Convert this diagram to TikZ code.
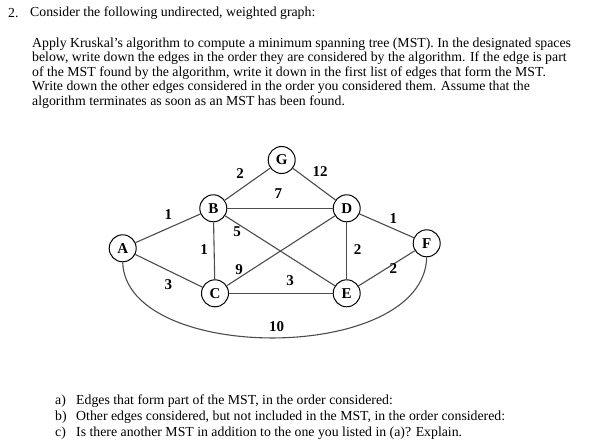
\documentclass[tikz,border=0pt]{standalone}
\usepackage{fontspec}
\setmainfont{Liberation Serif}
\begin{document}
\begin{tikzpicture}[x=1pt,y=-1pt,
  txt/.style={anchor=west,inner sep=0pt,font=\fontsize{13.8}{15}\selectfont},
  vert/.style={draw,circle,line width=1pt,minimum size=27pt,inner sep=0pt,font=\fontsize{15}{16}\selectfont\bfseries},
  wt/.style={inner sep=0pt,font=\fontsize{15}{16}\selectfont\bfseries},
  edge/.style={draw=black!70,line width=1.1pt}]
\useasboundingbox (0,0) rectangle (595,447);
% text
\node[txt] (q) at (8,13) {2.};
\node[txt] (l0) at (30,13) {Consider the following undirected, weighted graph:};
\node[txt] (l1) at (32,44) {Apply Kruskal’s algorithm to compute a minimum spanning tree (MST). In the designated spaces};
\node[txt] (l2) at (32,58.5) {below, write down the edges in the order they are considered by the algorithm. If the edge is part};
\node[txt] (l3) at (32,73) {of the MST found by the algorithm, write it down in the first list of edges that form the MST.};
\node[txt] (l4) at (32,87.5) {Write down the other edges considered in the order you considered them. Assume that the};
\node[txt] (l5) at (32,102) {algorithm terminates as soon as an MST has been found.};
\node[txt] (a) at (55,401) {a)};
\node[txt] (at) at (76,401) {Edges that form part of the MST, in the order considered:};
\node[txt] (b) at (55,417) {b)};
\node[txt] (bt) at (76,417) {Other edges considered, but not included in the MST, in the order considered:};
\node[txt] (c) at (55,433) {c)};
\node[txt] (ct) at (76,433) {Is there another MST in addition to the one you listed in (a)? Explain.};
% vertices
\node[vert] (G) at (281.7,160) {G};
\node[vert] (B) at (213.3,208.3) {B};
\node[vert] (D) at (346.7,208.3) {D};
\node[vert] (A) at (122.7,248.3) {A};
\node[vert] (F) at (426.7,243.3) {F};
\node[vert] (C) at (215,293.3) {C};
\node[vert] (E) at (346.7,293.3) {E};
% edges
\draw[edge] (A) -- (B);
\draw[edge] (A) -- (C);
\draw[edge] (B) -- (G);
\draw[edge] (G) -- (D);
\draw[edge] (B) -- (D);
\draw[edge] (B) -- (C);
\draw[edge] (B) -- (E);
\draw[edge] (C) -- (D);
\draw[edge] (C) -- (E);
\draw[edge] (D) -- (E);
\draw[edge] (D) -- (F);
\draw[edge] (E) -- (F);
\draw[edge] (A.south) .. controls (126,364) and (424,364) .. (F.south);
% weights
\node[wt] (wBG) at (240,173.3) {2};
\node[wt] (wGD) at (320,171.7) {12};
\node[wt] (wBD) at (278.3,194) {7};
\node[wt] (wAB) at (168.3,215) {1};
\node[wt] (wBE) at (237,231.5) {5};
\node[wt] (wBC) at (204,250) {1};
\node[wt] (wCD) at (239,269.5) {9};
\node[wt] (wAC) at (168.3,285) {3};
\node[wt] (wCE) at (290,281) {3};
\node[wt] (wDE) at (357.5,250) {2};
\node[wt] (wDF) at (393.3,218.3) {1};
\node[wt] (wEF) at (393.3,268.3) {2};
\node[wt] (wAF) at (276.7,326.5) {10};
\end{tikzpicture}
\end{document}
